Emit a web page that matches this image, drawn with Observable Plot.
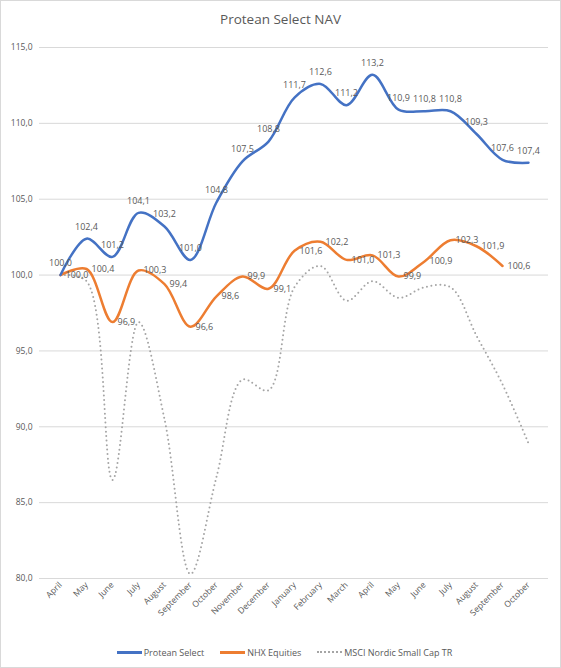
<!DOCTYPE html>
<html>
<head>
<meta charset="utf-8">
<script src="https://cdn.jsdelivr.net/npm/d3@7"></script>
<script src="https://cdn.jsdelivr.net/npm/@observablehq/plot@0.6"></script>
<style>
  html, body { margin: 0; padding: 0; background: #fff; }
  #wrap { width: 561px; height: 668px; box-sizing: border-box; border: 1px solid #d9d9d9; overflow: hidden; font-family: "Open Sans", sans-serif; }
  #title { height: 35px; line-height: 36px; text-align: center; font-size: 13.5px; color: #595959; }
  #legend { display: flex; justify-content: center; align-items: center; gap: 16px; font-size: 9px; color: #595959; height: 30px; margin-left: 8px; }
  .item { display: flex; align-items: center; gap: 2px; }
  .sw { width: 25px; height: 0; }
</style>
</head>
<body>
<div id="wrap">
  <div id="title">Protean Select NAV</div>
  <div id="chart"></div>
  <div id="legend">
    <div class="item"><span class="sw" style="border-top:3px solid #4472C4"></span>Protean Select</div>
    <div class="item"><span class="sw" style="border-top:3px solid #ED7D31"></span>NHX Equities</div>
    <div class="item"><span class="sw" style="border-top:2px dotted #A5A5A5"></span>MSCI Nordic Small Cap TR</div>
  </div>
</div>
<script>
const months = ["April","May","June","July","August","September","October","November","December","January","February","March","April","May","June","July","August","September","October"];
const protean = [100.0,102.4,101.2,104.1,103.2,101.0,104.8,107.5,108.8,111.7,112.6,111.2,113.2,110.9,110.8,110.8,109.3,107.6,107.4];
const nhx = [100.0,100.4,96.9,100.3,99.4,96.6,98.6,99.9,99.1,101.6,102.2,101.0,101.3,99.9,100.9,102.3,101.9,100.6];
const msci = [100.0,99.6,86.5,96.9,90.5,80.3,86.7,93.1,92.4,99.2,100.6,98.3,99.6,98.5,99.2,99.2,96.0,92.8,88.9];
const yTicks = [80,85,90,95,100,105,110,115];

const toRows = arr => arr.map((v, i) => ({i, v}));
const P = toRows(protean), N = toRows(nhx), M = toRows(msci);
const fmt = v => v.toFixed(1).replace(".", ",");
const gray = "#595959";

const chart = Plot.plot({
  width: 559,
  height: 601,
  marginLeft: 38,
  marginRight: 12,
  marginTop: 11,
  marginBottom: 59,
  style: {fontFamily: "Open Sans, sans-serif", fontSize: "8.5px", color: gray, background: "white"},
  x: {type: "point", domain: d3.range(months.length), padding: 0.5, label: null},
  y: {domain: [80, 115], label: null},
  marks: [
    Plot.gridY(yTicks, {stroke: "#d9d9d9", strokeOpacity: 1, strokeWidth: 1}),
    Plot.axisY(yTicks, {tickSize: 0, tickPadding: 7, tickFormat: fmt, fill: gray, label: null}),
    Plot.axisX(d3.range(months.length), {tickSize: 0, tickPadding: 5, tickRotate: -45, tickFormat: i => months[i], fill: gray, label: null}),
    Plot.line(M, {x: "i", y: "v", stroke: "#A5A5A5", strokeWidth: 2, strokeDasharray: "0,4.5", strokeLinecap: "round", curve: "catmull-rom"}),
    Plot.line(N, {x: "i", y: "v", stroke: "#ED7D31", strokeWidth: 2.5, curve: "catmull-rom"}),
    Plot.line(P, {x: "i", y: "v", stroke: "#4472C4", strokeWidth: 2.5, curve: "catmull-rom"}),
    Plot.text(N, {x: "i", y: "v", text: d => fmt(d.v), textAnchor: "start", dx: 5, fill: gray, fontSize: 9}),
    Plot.text(P, {x: "i", y: "v", text: d => fmt(d.v), dy: -12, fill: gray, fontSize: 9})
  ]
});
document.getElementById("chart").appendChild(chart);
</script>
</body>
</html>
